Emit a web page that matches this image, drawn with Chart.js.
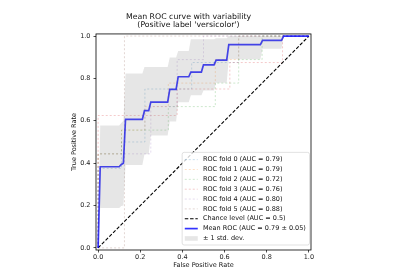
<!DOCTYPE html>
<html>
<head>
<meta charset="utf-8">
<script src="https://cdn.jsdelivr.net/npm/chart.js@4/dist/chart.umd.min.js"></script>
<style>
  html, body { margin: 0; padding: 0; background: #fff; }
  #wrap { width: 400px; height: 280px; }
</style>
</head>
<body>
<div id="wrap"><canvas id="myChart" width="400" height="280"></canvas></div>
<script>
"use strict";

// folds
const foldAuc = [0.79, 0.79, 0.72, 0.76, 0.80, 0.88];
const foldColors = ['31,119,180', '255,127,14', '44,160,44', '214,39,40', '148,103,189', '140,86,75'];

const fold0Fpr = [0, 0, 0.111, 0.111, 0.222, 0.222, 0.444, 0.444, 0.667, 0.667, 1];
const fold0Tpr = [0, 0.375, 0.375, 0.5, 0.5, 0.75, 0.75, 0.875, 0.875, 1, 1];
const fold1Fpr = [0, 0, 0.111, 0.111, 0.222, 0.222, 0.333, 0.333, 0.556, 0.556, 0.667, 0.667, 1];
const fold1Tpr = [0, 0.444, 0.444, 0.556, 0.556, 0.667, 0.667, 0.778, 0.778, 0.889, 0.889, 1, 1];
const fold2Fpr = [0, 0, 0.111, 0.111, 0.333, 0.333, 0.556, 0.556, 0.667, 0.667, 0.778, 0.778, 1];
const fold2Tpr = [0, 0.444, 0.444, 0.556, 0.556, 0.667, 0.667, 0.778, 0.778, 0.889, 0.889, 1, 1];
const fold3Fpr = [0, 0, 0.375, 0.375, 0.625, 0.625, 0.875, 0.875, 1];
const fold3Tpr = [0, 0.625, 0.625, 0.75, 0.75, 0.875, 0.875, 1, 1];
const fold4Fpr = [0, 0, 0.25, 0.25, 0.375, 0.375, 0.5, 0.5, 1];
const fold4Tpr = [0, 0.444, 0.444, 0.667, 0.667, 0.889, 0.889, 1, 1];
const fold5Fpr = [0, 0.125, 0.125, 1];
const fold5Tpr = [0, 0, 1, 1];

// mean curve and +/- 1 std band
const gridFpr = [0, 0.01, 0.10, 0.11, 0.12, 0.13, 0.21, 0.22, 0.24, 0.25, 0.33, 0.34, 0.37, 0.38,
  0.43, 0.44, 0.49, 0.50, 0.55, 0.56, 0.61, 0.62, 0.77, 0.78, 0.87, 0.88, 1.0];
const meanTpr = [0, 0.383, 0.383, 0.394, 0.40, 0.607, 0.607, 0.648, 0.648, 0.688, 0.688, 0.748, 0.748, 0.808,
  0.808, 0.83, 0.83, 0.864, 0.864, 0.886, 0.886, 0.96, 0.96, 0.98, 0.98, 1, 1];
const upperTpr = [0, 0.578, 0.578, 0.59, 0.60, 0.823, 0.823, 0.854, 0.854, 0.854, 0.854, 0.899, 0.899, 0.929,
  0.929, 0.985, 0.985, 0.985, 0.985, 0.99, 0.99, 1, 1, 1, 1, 1, 1];
const lowerTpr = [0, 0.188, 0.188, 0.198, 0.20, 0.391, 0.391, 0.442, 0.442, 0.53, 0.53, 0.597, 0.597, 0.687,
  0.687, 0.72, 0.72, 0.743, 0.743, 0.78, 0.78, 0.89, 0.89, 0.94, 0.94, 1, 1];
const meanAuc = 0.79;
const stdAuc = 0.05;

const chanceFpr = [0, 1];
const chanceTpr = [0, 1];

const xTicks = [0, 0.2, 0.4, 0.6, 0.8, 1.0];
const yTicks = [0, 0.2, 0.4, 0.6, 0.8, 1.0];

const FONT = 'DejaVu Sans';

function pts(xs, ys) {
  return xs.map((x, i) => ({x: x, y: ys[i]}));
}

const foldFpr = [fold0Fpr, fold1Fpr, fold2Fpr, fold3Fpr, fold4Fpr, fold5Fpr];
const foldTpr = [fold0Tpr, fold1Tpr, fold2Tpr, fold3Tpr, fold4Tpr, fold5Tpr];

// chart.js draws the first dataset on top, so the list goes top -> bottom
var datasets = [
  {
    label: '± 1 std. dev.',
    data: pts(gridFpr, upperTpr),
    borderWidth: 0,
    borderColor: 'rgba(0,0,0,0)',
    backgroundColor: 'rgba(128,128,128,0.2)',
    fill: '+1',
    pointRadius: 0
  },
  {
    label: 'lower',
    data: pts(gridFpr, lowerTpr),
    borderWidth: 0,
    borderColor: 'rgba(0,0,0,0)',
    fill: false,
    pointRadius: 0
  },
  {
    label: 'Mean ROC (AUC = ' + meanAuc.toFixed(2) + ' ± ' + stdAuc.toFixed(2) + ')',
    data: pts(gridFpr, meanTpr),
    borderColor: 'rgba(0,0,255,0.8)',
    borderWidth: 1.7,
    fill: false,
    pointRadius: 0
  },
  {
    label: 'Chance level (AUC = 0.5)',
    data: pts(chanceFpr, chanceTpr),
    borderColor: '#000',
    borderWidth: 1.1,
    borderDash: [3.5, 1.8],
    fill: false,
    pointRadius: 0
  }
];

for (let i = foldAuc.length - 1; i >= 0; i--) {
  datasets.push({
    label: 'ROC fold ' + i + ' (AUC = ' + foldAuc[i].toFixed(2) + ')',
    data: pts(foldFpr[i], foldTpr[i]),
    borderColor: 'rgba(' + foldColors[i] + ',0.3)',
    borderWidth: 0.8,
    borderDash: [2, 2],
    fill: false,
    pointRadius: 0
  });
}

// axes frame + legend in the lower right corner
const frameAndLegend = {
  id: 'frameAndLegend',
  afterDatasetsDraw(chart) {
    const ctx = chart.ctx;
    const ca = chart.chartArea;
    ctx.save();
    ctx.strokeStyle = '#000';
    ctx.lineWidth = 0.8;
    ctx.strokeRect(ca.left, ca.top, ca.right - ca.left, ca.bottom - ca.top);

    // legend entries in matplotlib order
    var entries = [];
    for (let i = 0; i < foldAuc.length; i++) {
      entries.push({kind: 'line', ds: datasets[datasets.length - 1 - i]});
    }
    entries.push({kind: 'line', ds: datasets[3]});
    entries.push({kind: 'line', ds: datasets[2]});
    entries.push({kind: 'patch', ds: datasets[0]});

    ctx.font = '6.5px "' + FONT + '"';
    let maxW = 0;
    entries.forEach(e => { maxW = Math.max(maxW, ctx.measureText(e.ds.label).width); });

    const rowH = 9.85;
    const pad = 2.6;
    const handleLen = 13;
    const gap = 5.2;
    const w = pad + handleLen + gap + maxW + pad + 1;
    const h = rowH * entries.length + 4;
    const right = ca.right - 1.5;
    const bottom = ca.bottom - 5;
    const left = right - w;
    const top = bottom - h;

    ctx.beginPath();
    ctx.roundRect(left, top, w, h, 2);
    ctx.fillStyle = 'rgba(255,255,255,0.8)';
    ctx.fill();
    ctx.strokeStyle = '#cccccc';
    ctx.lineWidth = 0.6;
    ctx.stroke();

    ctx.textBaseline = 'middle';
    ctx.textAlign = 'left';
    entries.forEach((e, i) => {
      const cy = top + 7.3 + i * rowH;
      const hx = left + pad;
      if (e.kind === 'patch') {
        ctx.fillStyle = e.ds.backgroundColor;
        ctx.fillRect(hx, cy - 2.3, handleLen, 4.6);
      } else {
        ctx.beginPath();
        ctx.setLineDash(e.ds.borderDash || []);
        ctx.strokeStyle = e.ds.borderColor;
        ctx.lineWidth = e.ds.borderWidth;
        ctx.moveTo(hx, cy);
        ctx.lineTo(hx + handleLen, cy);
        ctx.stroke();
        ctx.setLineDash([]);
      }
      ctx.fillStyle = '#111';
      ctx.fillText(e.ds.label, hx + handleLen + gap, cy);
    });
    ctx.restore();
  }
};

var ctx = document.getElementById('myChart').getContext('2d');

var chart = new Chart(ctx, {
  type: 'line',
  data: { datasets: datasets },
  options: {
    responsive: false,
    animation: false,
    events: [],
    layout: {
      padding: { left: 66, right: 89, top: 0, bottom: 0 }
    },
    plugins: {
      legend: { display: false },
      tooltip: { enabled: false },
      title: {
        display: true,
        text: ['Mean ROC curve with variability', "(Positive label 'versicolor')"],
        color: '#111',
        font: { family: FONT, size: 7.8, weight: 'normal', lineHeight: 1.15 },
        padding: { top: 12, bottom: 4 }
      }
    },
    scales: {
      x: {
        type: 'linear',
        min: -0.01,
        max: 1.01,
        afterBuildTicks: s => { s.ticks = xTicks.map(v => ({value: v})); },
        afterFit: s => { s.height = 30; },
        grid: { drawOnChartArea: false, drawTicks: true, tickLength: 2.5, tickColor: '#222', tickWidth: 0.8 },
        border: { display: false },
        ticks: {
          autoSkip: false,
          maxRotation: 0,
          padding: 1,
          color: '#222',
          font: { family: FONT, size: 6.5 },
          callback: v => Number(v).toFixed(1)
        },
        title: {
          display: true,
          text: 'False Positive Rate',
          color: '#111',
          font: { family: FONT, size: 6.5 },
          padding: { top: 0, bottom: 11 }
        }
      },
      y: {
        type: 'linear',
        min: -0.01,
        max: 1.01,
        afterBuildTicks: s => { s.ticks = yTicks.map(v => ({value: v})); },
        afterFit: s => { s.width = 30; },
        grid: { drawOnChartArea: false, drawTicks: true, tickLength: 2.5, tickColor: '#222', tickWidth: 0.8 },
        border: { display: false },
        ticks: {
          autoSkip: false,
          padding: 3,
          color: '#222',
          font: { family: FONT, size: 6.5 },
          callback: v => Number(v).toFixed(1)
        },
        title: {
          display: true,
          text: 'True Positive Rate',
          color: '#111',
          font: { family: FONT, size: 6.5 },
          padding: { top: 4, bottom: 0 }
        }
      }
    }
  },
  plugins: [frameAndLegend]
});
</script>
</body>
</html>
